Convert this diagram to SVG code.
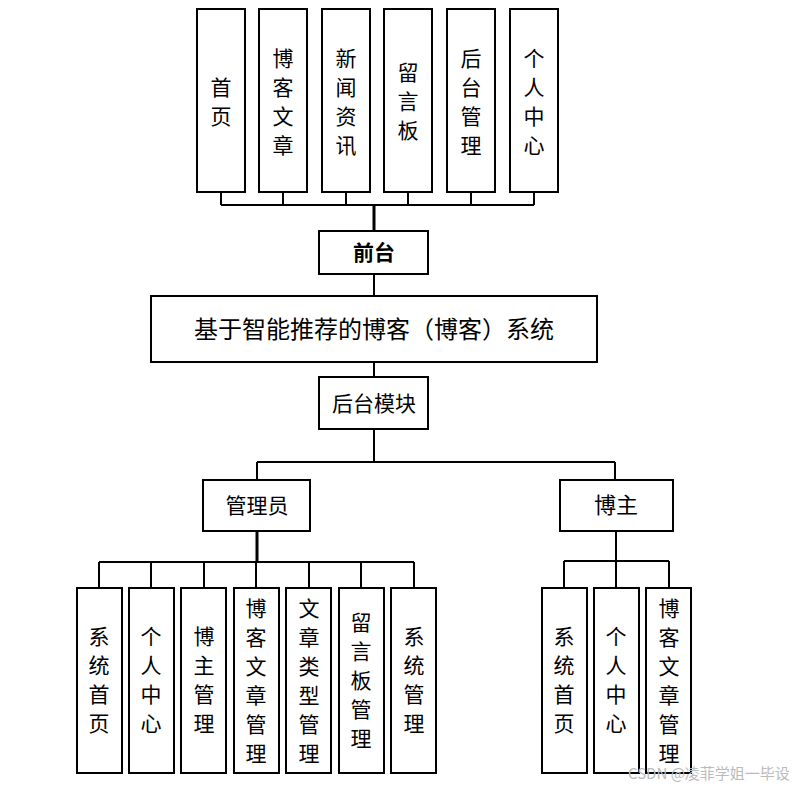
<svg xmlns="http://www.w3.org/2000/svg" width="805" height="787" viewBox="0 0 805 787">
<style>
rect{fill:#fff;stroke:#000;stroke-width:2}
text{font-family:"Noto Sans CJK SC",sans-serif;font-size:21px;fill:#000;text-anchor:middle}
.c path{fill:none;stroke:#000;stroke-width:2}
.wm{font-size:15px;fill:#bbb;text-anchor:start}
</style>
<rect x="0" y="0" width="805" height="787" style="stroke:none"/>
<g class="c">
<path d="M221 192V205M283 192V205M346 192V205M408 192V205M471 192V205M534 192V205M221 205H534"/>
<path d="M374 205V231" style="stroke-width:3"/>
<path d="M374 274V296M374 362V377M374 429V462M257 462H615M257 462V480M615 462V480"/>
<path d="M257 531V562" style="stroke-width:3"/>
<path d="M99 562H414M99 562V588M151 562V588M204 562V588M256 562V588M309 562V588M361 562V588M414 562V588"/>
<path d="M616 531V561M564 561H669M564 561V588M616 561V588M669 561V588"/>
</g>
<g id="n1"><rect x="197" y="9" width="48" height="183"/><text x="221" y="95">首</text><text x="221" y="124">页</text></g>
<g id="n2"><rect x="259" y="9" width="48" height="183"/><text x="283" y="66">博</text><text x="283" y="95">客</text><text x="283" y="124">文</text><text x="283" y="153">章</text></g>
<g id="n3"><rect x="322" y="9" width="48" height="183"/><text x="346" y="66">新</text><text x="346" y="95">闻</text><text x="346" y="124">资</text><text x="346" y="153">讯</text></g>
<g id="n4"><rect x="384" y="9" width="48" height="183"/><text x="408" y="80">留</text><text x="408" y="109">言</text><text x="408" y="138">板</text></g>
<g id="n5"><rect x="447" y="9" width="48" height="183"/><text x="471" y="66">后</text><text x="471" y="95">台</text><text x="471" y="124">管</text><text x="471" y="153">理</text></g>
<g id="n6"><rect x="510" y="9" width="48" height="183"/><text x="534" y="66">个</text><text x="534" y="95">人</text><text x="534" y="124">中</text><text x="534" y="153">心</text></g>
<g id="qt"><rect x="319" y="231" width="109" height="43"/><text x="374" y="260" style="font-weight:bold">前台</text></g>
<g id="main"><rect x="151" y="296" width="446" height="66"/><text x="374" y="338" style="font-size:24px">基于智能推荐的博客（博客）系统</text></g>
<g id="ht"><rect x="319" y="377" width="109" height="52"/><text x="374" y="411">后台模块</text></g>
<g id="admin"><rect x="203" y="480" width="107" height="51"/><text x="257" y="513">管理员</text></g>
<g id="blogger"><rect x="560" y="480" width="113" height="51"/><text x="616" y="513" style="font-size:22px">博主</text></g>
<g id="a1"><rect x="77" y="588" width="45" height="185"/><text x="99" y="644">系</text><text x="99" y="673">统</text><text x="99" y="702">首</text><text x="99" y="731">页</text></g>
<g id="a2"><rect x="129" y="588" width="45" height="185"/><text x="151" y="644">个</text><text x="151" y="673">人</text><text x="151" y="702">中</text><text x="151" y="731">心</text></g>
<g id="a3"><rect x="181" y="588" width="45" height="185"/><text x="204" y="644">博</text><text x="204" y="673">主</text><text x="204" y="702">管</text><text x="204" y="731">理</text></g>
<g id="a4"><rect x="234" y="588" width="45" height="185"/><text x="256" y="616">博</text><text x="256" y="645">客</text><text x="256" y="674">文</text><text x="256" y="703">章</text><text x="256" y="732">管</text><text x="256" y="761">理</text></g>
<g id="a5"><rect x="286" y="588" width="45" height="185"/><text x="309" y="616">文</text><text x="309" y="645">章</text><text x="309" y="674">类</text><text x="309" y="703">型</text><text x="309" y="732">管</text><text x="309" y="761">理</text></g>
<g id="a6"><rect x="339" y="588" width="45" height="185"/><text x="361" y="630">留</text><text x="361" y="659">言</text><text x="361" y="688">板</text><text x="361" y="717">管</text><text x="361" y="746">理</text></g>
<g id="a7"><rect x="391" y="588" width="45" height="185"/><text x="414" y="644">系</text><text x="414" y="673">统</text><text x="414" y="702">管</text><text x="414" y="731">理</text></g>
<g id="b1"><rect x="542" y="588" width="45" height="185"/><text x="564" y="644">系</text><text x="564" y="673">统</text><text x="564" y="702">首</text><text x="564" y="731">页</text></g>
<g id="b2"><rect x="594" y="588" width="45" height="185"/><text x="616" y="644">个</text><text x="616" y="673">人</text><text x="616" y="702">中</text><text x="616" y="731">心</text></g>
<g id="b3"><rect x="646" y="588" width="45" height="185"/><text x="669" y="616">博</text><text x="669" y="645">客</text><text x="669" y="674">文</text><text x="669" y="703">章</text><text x="669" y="732">管</text><text x="669" y="761">理</text></g>
<text class="wm" x="628" y="779">CSDN @凌菲学姐一毕设</text>
</svg>
